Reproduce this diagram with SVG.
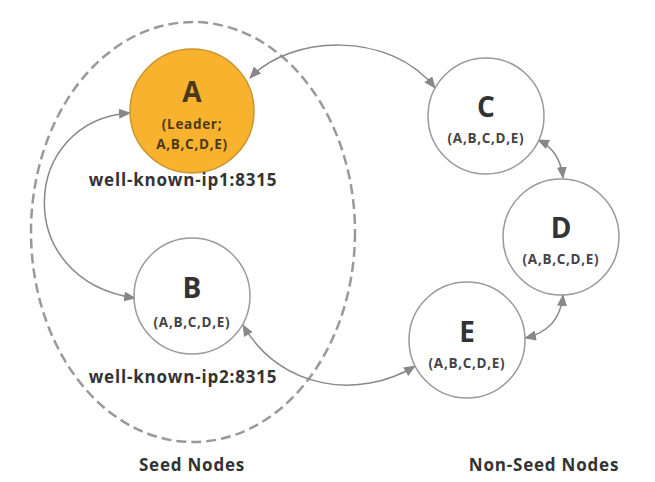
<svg xmlns="http://www.w3.org/2000/svg" width="655" height="482" viewBox="0 0 655 482">
<defs>
<style>
.node{fill:#fff;stroke:#999;stroke-width:1.5}
.leader{fill:#F9B22E;stroke:#C99530;stroke-width:1.5}
.conn{fill:none;stroke:#888;stroke-width:1.5;marker-start:url(#arrS);marker-end:url(#arrE)}
.big{font-family:"Open Sans","Noto Sans",sans-serif;font-weight:bold;font-size:28px;fill:#333;text-anchor:middle}
.small{font-family:"Open Sans","Noto Sans",sans-serif;font-weight:bold;font-size:13.5px;letter-spacing:0.7px;fill:#444;text-anchor:middle}
.lbl{font-family:"Open Sans","Noto Sans",sans-serif;font-weight:bold;font-size:17px;letter-spacing:0.8px;fill:#333;text-anchor:middle}
.inA{fill:#4a3a1a}
</style>
<marker id="arrE" viewBox="0 0 12 10" refX="11" refY="5" markerWidth="12" markerHeight="10" markerUnits="userSpaceOnUse" orient="auto">
<path d="M0,0 L12,5 L0,10 z" fill="#888"/>
</marker>
<marker id="arrS" viewBox="0 0 12 10" refX="1" refY="5" markerWidth="12" markerHeight="10" markerUnits="userSpaceOnUse" orient="auto">
<path d="M12,0 L0,5 L12,10 z" fill="#888"/>
</marker>
</defs>
<rect width="655" height="482" fill="#fff"/>
<ellipse id="seed-group" cx="193" cy="232" rx="162" ry="210" fill="none" stroke="#999" stroke-width="2.5" stroke-dasharray="10 5"/>
<g id="connectors">
<path class="conn" d="M250,78 C290,35 390,30 435,88"/>
<path class="conn" d="M130,113 C20,120 10,280 135,298"/>
<path class="conn" d="M243,325 C280,390 360,400 415,366"/>
<path class="conn" d="M538,140 Q560,150 563,178"/>
<path class="conn" d="M563,295 Q560,330 525,338"/>
</g>
<g id="nodeA">
<circle class="leader" cx="192" cy="111" r="62"/>
<text class="big inA" x="192" y="102">A</text>
<text class="small inA" x="192" y="129">(Leader;</text>
<text class="small inA" x="192" y="149">A,B,C,D,E)</text>
<text class="lbl" x="183" y="186">well-known-ip1:8315</text>
</g>
<g id="nodeB">
<circle class="node" cx="192" cy="296" r="58"/>
<text class="big" x="192" y="298">B</text>
<text class="small" x="192" y="327">(A,B,C,D,E)</text>
<text class="lbl" x="183" y="383">well-known-ip2:8315</text>
</g>
<g id="nodeC">
<circle class="node" cx="486" cy="116" r="58"/>
<text class="big" x="486" y="117">C</text>
<text class="small" x="486" y="143">(A,B,C,D,E)</text>
</g>
<g id="nodeD">
<circle class="node" cx="561" cy="237" r="58"/>
<text class="big" x="561" y="238">D</text>
<text class="small" x="561" y="264">(A,B,C,D,E)</text>
</g>
<g id="nodeE">
<circle class="node" cx="467" cy="340" r="58"/>
<text class="big" x="467" y="342">E</text>
<text class="small" x="467" y="368">(A,B,C,D,E)</text>
</g>
<text class="lbl" x="192" y="471">Seed Nodes</text>
<text class="lbl" x="544" y="471">Non-Seed Nodes</text>
</svg>
